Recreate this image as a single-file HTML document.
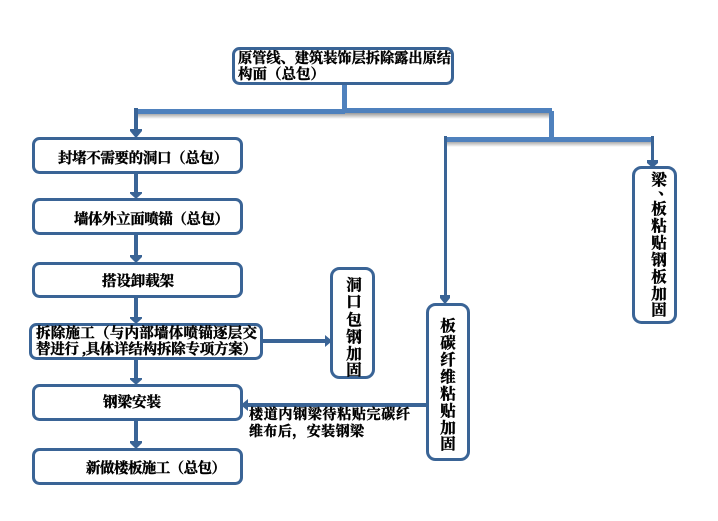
<!DOCTYPE html>
<html><head><meta charset="utf-8">
<style>
html,body{margin:0;padding:0;background:#fff}
svg{display:block}
text{font-family:"Liberation Serif","Noto Serif CJK SC",serif;font-weight:700;fill:#000;stroke:#000;stroke-width:.4px;font-size:15.5px}
</style></head><body>
<svg width="718" height="521" viewBox="0 0 718 521" xmlns="http://www.w3.org/2000/svg">
<defs>
<linearGradient id="s" x1="0" y1="0" x2="0" y2="1"><stop offset="0" stop-color="#999"/><stop offset="1" stop-color="#fff"/></linearGradient>
</defs>
<rect x="138" y="113" width="414" height="6" fill="url(#s)"/>
<rect x="447" y="141" width="204" height="6" fill="url(#s)"/>
<g fill="#4f81bd">
<rect x="342" y="84" width="5" height="27"/>
<rect x="136" y="109" width="209" height="5"/>
<rect x="345" y="108" width="207" height="5"/>
<rect x="549" y="111" width="5" height="28"/>
<rect x="446" y="137" width="207" height="5"/>
</g>
<g fill="#3a6496" stroke="none">
<rect x="134" y="108" width="4" height="22"/><path d="M130 129h12v2l-5 6h-2l-5-6z"/>
<rect x="134" y="173" width="4" height="20"/><path d="M130 192h12v1.500l-5 4.500h-2l-5-4.500z"/>
<rect x="134" y="235" width="4" height="21"/><path d="M130 255h12v2l-5 5h-2l-5-5z"/>
<rect x="134" y="297" width="4" height="21"/><path d="M130 317h12v1.500l-5 4.500h-2l-5-4.500z"/>
<rect x="134" y="359" width="4" height="20"/><path d="M130 378h12v1.500l-5 4.500h-2l-5-4.500z"/>
<rect x="134" y="420" width="4" height="22"/><path d="M130 441h12v2l-5 5h-2l-5-5z"/>
<rect x="262" y="339" width="65" height="4"/><path d="M325 335v12l6-5v-2z"/>
<rect x="248" y="403" width="178" height="4"/><path d="M248 399v12l-6-5v-2z"/>
<rect x="444" y="136" width="3" height="161"/><path d="M440 295h10v3l-4 5h-2l-4-5z"/>
<rect x="651" y="136" width="3" height="25"/><path d="M647 160h11v3l-4.500 4h-2l-4.500-4z"/>
</g>
<g fill="#fff" stroke="#3a6496" stroke-width="3">
<rect x="233.500" y="48.500" width="219" height="35" rx="6"/>
<rect x="33.500" y="138.500" width="208" height="34" rx="6"/>
<rect x="33.500" y="199.500" width="208" height="34" rx="6"/>
<rect x="33.500" y="263.500" width="208" height="33" rx="6"/>
<rect x="30.500" y="324.500" width="231" height="34" rx="6"/>
<rect x="33.500" y="385.500" width="208" height="34" rx="6"/>
<rect x="33.500" y="449.500" width="208" height="34" rx="6"/>
<rect x="331.500" y="268.500" width="42" height="109" rx="8"/>
<rect x="427.500" y="304.500" width="41" height="155" rx="8"/>
<rect x="633.500" y="167.500" width="42" height="155" rx="8"/>
</g>
<text x="238" y="63" textLength="213" lengthAdjust="spacingAndGlyphs" style="font-size:14.500px">原管线、建筑装饰层拆除露出原结</text>
<text x="238" y="79" style="font-size:14.500px">构面（总包）</text>
<text x="58" y="163" textLength="170" lengthAdjust="spacing" style="font-size:14.500px">封堵不需要的洞口（总包）</text>
<text x="74" y="224" textLength="155" lengthAdjust="spacing" style="font-size:14.500px">墙体外立面喷锚（总包）</text>
<text x="102" y="286" textLength="72" lengthAdjust="spacing" style="font-size:14.500px">搭设卸载架</text>
<text x="36" y="338" textLength="221" lengthAdjust="spacing" style="font-size:14.500px">拆除施工（与内部墙体喷锚逐层交</text>
<text x="36" y="354" textLength="221" lengthAdjust="spacing" style="font-size:14.500px">替进行 ,具体详结构拆除专项方案）</text>
<text x="103" y="407" textLength="58" lengthAdjust="spacing" style="font-size:14.500px">钢梁安装</text>
<text x="86" y="473" textLength="140" lengthAdjust="spacing" style="font-size:14.500px">新做楼板施工（总包）</text>
<text x="249" y="419" textLength="161" lengthAdjust="spacing" style="font-size:14px">楼道内钢梁待粘贴完碳纤</text>
<text x="249" y="436" textLength="115" lengthAdjust="spacing" style="font-size:14px">维布后，安装钢梁</text>
<g text-anchor="middle">
<text x="354" y="290">洞</text><text x="354" y="307">口</text><text x="354" y="325">包</text><text x="354" y="342">钢</text><text x="354" y="359">加</text><text x="354" y="375">固</text>
<text x="448" y="331">板</text><text x="448" y="348">碳</text><text x="448" y="365">纤</text><text x="448" y="382">维</text><text x="448" y="399">粘</text><text x="448" y="416">贴</text><text x="448" y="433">加</text><text x="448" y="449">固</text>
<text x="659" y="185">梁</text><text x="666" y="194">、</text><text x="659" y="214">板</text><text x="659" y="231">粘</text><text x="659" y="248">贴</text><text x="659" y="265">钢</text><text x="659" y="282">板</text><text x="659" y="299">加</text><text x="659" y="315">固</text>
</g>
</svg>
</body></html>
